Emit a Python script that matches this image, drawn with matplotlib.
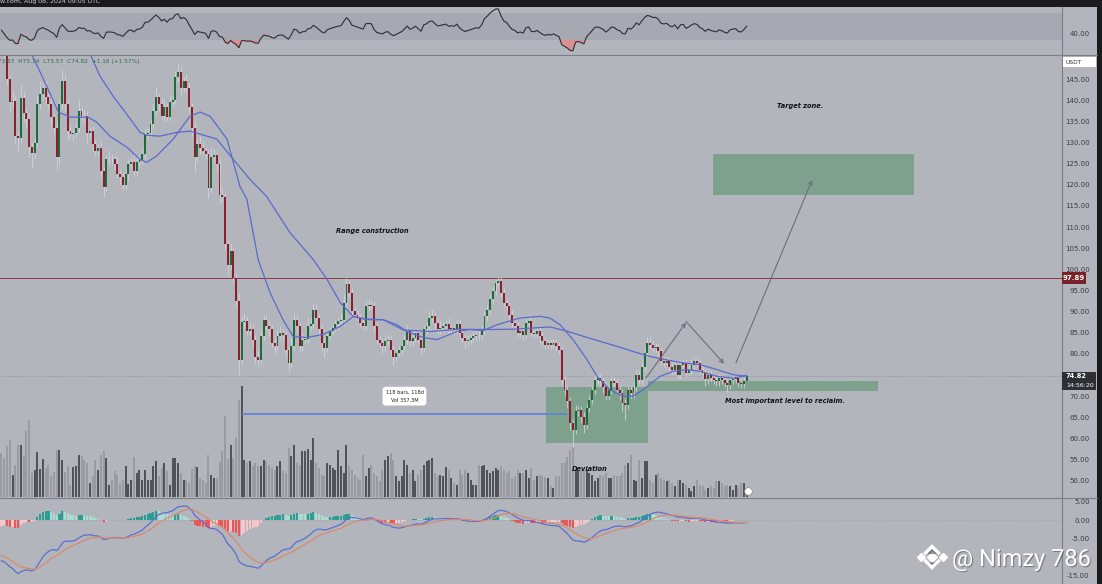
import numpy as np
import matplotlib
matplotlib.use("Agg")
import matplotlib.pyplot as plt
from matplotlib.patches import Rectangle
from matplotlib import transforms
from matplotlib.ticker import FormatStrFormatter
import matplotlib.patheffects as pe

# ---------------- data (daily candles, USDT) ----------------
first_open = 158.0
closes = [
    156, 151, 145, 139.5, 139.8, 131.5, 131, 140.5, 137, 135.5,
    129, 127.5, 130, 139, 141.5, 143, 140.7, 139, 136, 133.5,
    126.5, 139, 144.6, 139, 132.7, 132, 132.3, 133.5, 137.5, 136.3,
    136.2, 132.3, 132.7, 129.6, 128, 128.8, 123.3, 119.5, 126, 126.2,
    126, 125, 122.5, 121.8, 120, 122.5, 125, 125.4, 123.3, 125.4,
    125.8, 127.2, 132, 132.2, 134.3, 137.5, 140.7, 139, 136.3, 138.3,
    136, 139.5, 140, 145.4, 146.6, 143, 144.6, 143, 138.3, 133.5,
    126.5, 129.6, 128.8, 128, 127.2, 119.3, 126.5, 127, 125, 117.7,
    117, 106, 101.1, 104.3, 98, 92.5, 78.5, 87.5, 87.8, 85.4,
    85.8, 83.4, 79.4, 78.6, 84.2, 88.1, 86.6, 85.8, 82.6, 81.8,
    84.2, 85, 84.5, 81, 77.8, 81.8, 88.1, 86.6, 81.8, 83.4,
    83.6, 86.6, 87.2, 90.5, 88.5, 85.8, 82.6, 81.4, 84.2, 85.4,
    86.2, 87, 87.7, 88.1, 92.1, 96.5, 94.5, 90.1, 89.3, 88.5,
    87.4, 86.6, 91.3, 91.6, 91.3, 86.6, 83.4, 82.6, 81.8, 83,
    83.4, 81, 79.4, 80.2, 81, 81.8, 83.4, 85.4, 83, 83.8,
    85, 83.4, 81.4, 85.8, 86.6, 88.5, 88.9, 87.4, 85.8, 86.2,
    86.6, 87, 85.8, 86.2, 85.8, 87, 85, 83.8, 83, 83.4,
    83.8, 84.2, 84.6, 84.4, 85.8, 88.9, 90.5, 92.9, 94.9, 96.8,
    97.2, 94.5, 92.1, 91.3, 89.3, 87.3, 86.6, 85, 85.4, 84.6,
    87.3, 87.7, 85, 84.8, 85.4, 84.2, 83, 82.2, 82.6, 82.2,
    82.6, 81.8, 81, 73.9, 71.5, 68.8, 63.6, 62.1, 66.4, 66.8,
    65.2, 63.2, 67.2, 69.2, 71.5, 73.9, 74.3, 73.5, 72.3, 70,
    71.5, 73.5, 73.1, 71.5, 70.7, 68.4, 68, 71.5, 70.7, 72.3,
    75.1, 73.9, 77, 80.2, 82.6, 82.2, 81.4, 81.6, 80.6, 78.3,
    77.9, 78.3, 77, 76.3, 77.5, 75.1, 77.5, 77.9, 75.5, 76.3,
    77.5, 78.3, 77.9, 76.3, 75.5, 74, 75.1, 74.3, 73.9, 73.5,
    74.3, 73.9, 73.1, 72.7, 73.9, 74.1, 74.3, 73.1, 72.9, 73.66,
    74.82,
]
upper_wicks = [
    2.0, 1.5, 1.2, 1.0, 2.5, 1.5, 1.0, 3.0, 1.5, 1.0,
    1.5, 1.0, 1.0, 2.0, 3.0, 1.0, 1.5, 1.0, 2.0, 1.0,
    1.5, 1.0, 2.5, 1.5, 1.0, 1.5, 1.0, 1.0, 2.5, 1.0,
    1.5, 1.0, 1.0, 1.5, 1.0, 1.0, 1.5, 1.0, 1.0, 2.0,
    1.0, 1.0, 1.5, 1.0, 1.0, 1.5, 1.0, 1.0, 2.0, 1.0,
    1.0, 1.5, 1.5, 1.5, 1.0, 1.5, 2.5, 1.0, 1.5, 2.0,
    1.0, 1.5, 1.0, 1.5, 1.9, 1.5, 1.0, 1.5, 1.0, 1.0,
    1.5, 1.0, 2.0, 1.5, 1.0, 1.0, 2.5, 1.5, 1.0, 1.0,
    1.5, 1.0, 1.0, 2.0, 1.0, 1.0, 2.0, 1.5, 2.0, 1.0,
    1.5, 1.0, 1.0, 1.5, 1.5, 1.0, 1.0, 1.5, 1.0, 1.0,
    1.5, 1.5, 1.0, 1.0, 1.0, 2.5, 1.5, 1.0, 1.0, 1.5,
    1.0, 2.0, 1.5, 1.5, 1.0, 1.0, 1.0, 1.0, 1.0, 1.0,
    1.0, 1.0, 1.0, 1.5, 2.0, 1.5, 1.0, 1.0, 1.0, 1.0,
    1.0, 1.0, 1.5, 1.5, 1.0, 1.0, 1.0, 1.0, 1.0, 1.5,
    1.0, 1.0, 1.0, 1.0, 1.0, 1.0, 1.0, 1.5, 1.0, 1.0,
    1.0, 1.0, 1.0, 1.0, 1.0, 2.0, 1.5, 1.0, 1.0, 1.5,
    1.0, 1.0, 1.5, 1.0, 1.0, 1.0, 1.0, 1.0, 1.0, 1.0,
    1.0, 1.0, 1.0, 1.0, 1.0, 1.0, 1.0, 1.0, 1.0, 1.0,
    1.0, 1.0, 1.0, 1.0, 1.0, 1.0, 1.0, 1.0, 1.0, 1.0,
    1.0, 1.5, 1.0, 1.0, 1.0, 1.0, 1.0, 1.0, 1.0, 1.0,
    1.0, 1.0, 1.0, 1.0, 1.0, 1.0, 1.0, 1.0, 1.5, 1.0,
    1.0, 1.0, 1.0, 1.0, 1.0, 1.5, 1.0, 1.0, 1.0, 1.0,
    1.5, 1.0, 1.0, 1.0, 1.0, 1.0, 1.0, 1.0, 1.0, 1.0,
    1.0, 1.0, 1.0, 1.0, 1.5, 1.5, 1.0, 1.0, 1.0, 1.0,
    1.0, 1.0, 1.0, 1.0, 1.0, 1.0, 1.0, 1.0, 1.0, 1.0,
    1.0, 1.0, 1.0, 1.0, 1.0, 1.0, 1.0, 1.0, 1.0, 1.0,
    1.0, 1.0, 1.0, 1.0, 1.0, 1.0, 1.0, 1.0, 1.0, 1.0,
    0.32,
]
lower_wicks = [
    1.5, 1.0, 1.5, 2.0, 1.0, 1.5, 3.0, 1.0, 2.0, 2.0,
    2.5, 3.5, 1.5, 1.0, 1.0, 1.0, 1.5, 1.0, 2.0, 1.5,
    3.0, 1.5, 1.0, 1.5, 2.0, 1.0, 1.5, 1.0, 1.0, 1.0,
    1.5, 2.5, 1.0, 1.5, 1.0, 1.0, 1.5, 2.5, 1.0, 1.0,
    1.0, 1.5, 1.0, 1.5, 1.0, 1.0, 1.5, 1.0, 1.0, 1.0,
    1.5, 1.0, 1.0, 1.5, 1.0, 1.0, 1.0, 1.5, 1.0, 1.5,
    1.0, 1.0, 1.0, 1.0, 1.0, 1.5, 1.0, 1.0, 1.5, 2.0,
    3.5, 1.0, 1.5, 1.0, 1.0, 2.5, 1.0, 1.0, 1.5, 2.0,
    1.0, 1.5, 2.5, 1.0, 1.0, 1.5, 3.5, 1.0, 1.5, 1.0,
    1.0, 1.5, 1.5, 1.5, 1.0, 1.0, 1.0, 1.5, 1.0, 1.5,
    1.0, 1.0, 1.5, 1.5, 2.0, 1.0, 1.0, 1.5, 1.0, 1.0,
    1.0, 1.0, 1.0, 1.0, 1.0, 1.5, 2.0, 2.0, 1.0, 1.0,
    1.0, 1.0, 1.0, 1.0, 1.0, 1.0, 1.0, 1.5, 1.0, 1.0,
    1.0, 1.0, 1.0, 1.0, 1.0, 1.5, 1.0, 1.0, 1.5, 1.0,
    1.0, 1.5, 2.0, 1.0, 1.0, 1.0, 1.0, 1.0, 1.0, 1.0,
    1.0, 1.0, 1.5, 1.0, 1.0, 1.0, 1.0, 1.5, 1.0, 1.0,
    1.0, 1.0, 1.0, 1.0, 1.0, 1.0, 1.5, 1.0, 1.5, 1.0,
    1.0, 1.0, 1.0, 1.0, 1.0, 1.0, 1.0, 1.0, 1.0, 1.0,
    1.0, 1.0, 1.0, 1.0, 1.0, 1.0, 1.0, 1.0, 1.0, 1.5,
    1.0, 1.0, 1.0, 1.0, 1.0, 1.5, 1.0, 1.0, 1.0, 1.0,
    1.0, 1.0, 1.0, 1.0, 1.5, 1.5, 1.5, 4.0, 1.0, 1.0,
    1.5, 2.0, 1.0, 1.0, 1.0, 1.0, 1.0, 1.0, 1.5, 1.0,
    1.0, 1.0, 1.0, 1.0, 1.5, 2.0, 3.6, 1.0, 1.0, 1.0,
    1.0, 1.0, 1.0, 1.0, 1.0, 1.0, 1.0, 1.0, 1.0, 1.0,
    1.0, 1.0, 1.0, 1.0, 1.0, 1.0, 1.0, 1.0, 1.0, 1.0,
    1.0, 1.0, 1.0, 1.0, 1.0, 1.5, 1.0, 1.0, 1.0, 1.0,
    1.0, 1.0, 1.0, 1.6, 1.0, 1.0, 1.0, 1.0, 1.0, 1.0,
    0.09,
]
volume_100k = [
    44, 39, 51, 57, 22, 32, 52, 52, 41, 66,
    77, 24, 27, 45, 28, 38, 29, 32, 21, 25,
    47, 47, 37, 25, 31, 12, 30, 31, 42, 41,
    37, 34, 14, 21, 37, 27, 42, 46, 39, 12,
    17, 26, 22, 14, 17, 31, 13, 17, 40, 24,
    27, 17, 27, 17, 17, 31, 36, 21, 29, 34,
    26, 12, 39, 39, 34, 24, 17, 17, 14, 28,
    31, 30, 19, 17, 14, 42, 22, 19, 19, 35,
    46, 81, 38, 52, 39, 59, 97, 111, 37, 34,
    36, 31, 34, 31, 31, 37, 36, 32, 29, 27,
    31, 36, 26, 24, 49, 41, 52, 34, 32, 46,
    46, 48, 37, 59, 34, 29, 22, 21, 34, 32,
    29, 27, 47, 31, 24, 52, 31, 27, 22, 19,
    17, 42, 21, 29, 32, 24, 21, 16, 27, 37,
    41, 44, 37, 21, 16, 21, 37, 32, 24, 27,
    16, 22, 27, 32, 36, 37, 39, 24, 21, 22,
    21, 30, 27, 19, 14, 12, 27, 22, 27, 24,
    17, 12, 12, 32, 31, 32, 27, 24, 26, 29,
    27, 31, 27, 24, 26, 19, 21, 27, 24, 24,
    27, 19, 29, 17, 21, 22, 21, 20, 19, 11,
    9, 21, 21, 34, 34, 40, 47, 50, 27, 26,
    27, 27, 27, 24, 22, 16, 19, 22, 21, 24,
    19, 19, 22, 21, 21, 24, 32, 34, 42, 17,
    16, 37, 19, 36, 36, 17, 14, 22, 24, 19,
    17, 16, 17, 14, 11, 17, 17, 14, 12, 9,
    6, 11, 17, 12, 11, 7, 9, 11, 9, 16,
    16, 14, 11, 12, 11, 7, 12, 11, 14, 14,
    8,
]
# moving averages (bar index, price)
ma_fast_bars = [10.9, 15.2, 20.6, 24.8, 31.4, 34.5, 39.3, 45.4, 50.2, 52.6,
                56.2, 62.2, 68.3, 72.0, 75.6, 81.7, 86.4, 88.9, 93.0, 97.3,
                102.0, 105.7, 110.6, 116.5, 122.7, 127.4, 133.5, 138.3, 143.3, 146.9,
                152.7, 157.8, 165.0, 169.8, 174.5, 179.5, 187.9, 195.1, 198.7, 202.4,
                207.1, 212.1, 215.8, 220.5, 225.2, 228.8, 232.4, 238.6, 243.3, 248.3,
                253.1, 259.3, 265.1, 270.0]
ma_fast_vals = [150.9, 145, 137.2, 136, 136, 134.8, 131.5, 128.9, 126, 125.3,
                126.8, 130.8, 136.2, 137.2, 136.2, 130.8, 119.6, 116.6, 102.3, 94.5,
                88.1, 84.1, 83.9, 84.6, 86.5, 88.8, 88.1, 88.1, 86.9, 85.3,
                83.9, 83.4, 85.3, 85.8, 85.5, 86.9, 88.5, 88.9, 88.5, 86.9,
                83.4, 78.7, 74.7, 71.5, 70, 70, 71.5, 74.7, 75.9, 76.3,
                75.9, 74.7, 74.3, 74.9]
ma_slow_bars = [32.1, 35.7, 40.4, 45.4, 50.2, 52.7, 57.4, 63.6, 68.3, 71.9,
                78.0, 84.0, 90.0, 96.0, 104.5, 113.0, 118.0, 122.7, 127.4, 131.0,
                138.3, 145.5, 155.3, 165.0, 174.5, 180.6, 186.8, 198.7, 204.9, 210.7,
                216.8, 223.0, 228.8, 235.0, 241.0, 246.9, 253.0, 259.3, 265.1, 270.0]
ma_slow_vals = [150.9, 145.7, 141, 136.7, 132.4, 131.7, 131.5, 132.4, 132.7, 132,
                130.8, 126, 121.3, 117.3, 108.7, 102.3, 97.6, 92.2, 88.9, 88.3,
                88.1, 85.7, 85.3, 85.8, 85.8, 85.8, 85.9, 86.4, 85.4, 84.2,
                83, 81.8, 80.6, 79.4, 78.6, 77.9, 77.5, 76.3, 75.1, 74.7]

ema12_start, ema26_start, signal_start = 165.0, 176.0, -9.5
rsi_gain_start, rsi_loss_start = 1.2, 1.5

price_ticks = [p for p in range(50, 150, 5) if p != 75]   # 75 sits under the last-price tag
rsi_ticks = [40]
macd_ticks = [5, 0, -5, -15]                              # -10 sits under the watermark
resistance = 97.89
last_price = 74.82
last_time = "14:56:20"
ohlc_header = "O73.67  H75.14  L73.57  C74.82  +1.16 (+1.57%)"
top_caption = "TradingView.com, Aug 08, 2024 09:05 UTC"
measure_start, measure_end, measure_price = 87, 205, 65.9
measure_text = "118 bars, 118d\nVol 357.3M"
zone_target = (257.8, 330.6, 117.7, 127.2)
zone_deviation = (197.3, 234.3, 59.0, 72.25)
zone_level = (234.3, 317.6, 71.3, 73.7)
arrow_paths = [((233.5, 74.3), (248.0, 87.4)),
               ((248.0, 87.7), (261.8, 77.7)),
               ((266.1, 77.9), (293.7, 121.1))]
notes = [("Range construction", 134.3, 109.0),
         ("Target zone.", 289.3, 138.6),
         ("Most important level to reclaim.", 283.9, 68.8),
         ("Deviation", 213.2, 52.8)]
watermark = "@ Nimzy 786"

# ---------------- derived series ----------------
c = np.array(closes, dtype=float)
n = len(c)
x = np.arange(n)
opens = np.concatenate([[first_open], c[:-1]])
highs = np.maximum(opens, c) + np.array(upper_wicks)
lows = np.minimum(opens, c) - np.array(lower_wicks)
vol = np.array(volume_100k, dtype=float)


def ema(series, period, start):
    a = 2.0 / (period + 1)
    out = np.empty(len(series))
    prev = start
    for i, v in enumerate(series):
        if i > 0:
            prev = prev + a * (v - prev)
        out[i] = prev
    return out


macd = ema(c, 12, ema12_start) - ema(c, 26, ema26_start)
signal = ema(macd, 9, signal_start)
hist = macd - signal

g, l = rsi_gain_start, rsi_loss_start
rsi = [100 - 100 / (1 + g / l)]
for d in np.diff(c):
    g = (g * 13 + max(d, 0)) / 14
    l = (l * 13 + max(-d, 0)) / 14
    rsi.append(100 - 100 / (1 + g / l))
rsi = np.array(rsi)

# ---------------- styling ----------------
W, H = 1102, 584
BG = "#b3b5bd"
BAND = "#a6a9b1"
GREEN, RED = "#1f6b38", "#8c1f2e"
WICK = "#d2d3d8"
VOL_UP, VOL_DN = "#525359", "#999aa2"
MA_COL = "#5a6bcc"
AXIS_COL = "#7b7d85"
LABEL_COL = "#3b3c42"

fig = plt.figure(figsize=(W / 100, H / 100), dpi=100, facecolor=BG)


def rect(x0, y0, x1, y1):
    return [x0 / W, 1 - y1 / H, (x1 - x0) / W, (y1 - y0) / H]


XL = (-0.54, 384.25)


def style_axis(ax, ticks):
    ax.set_xlim(*XL)
    ax.set_xticks([])
    for s in ("top", "left", "bottom"):
        ax.spines[s].set_visible(False)
    ax.spines["right"].set_color(AXIS_COL)
    ax.spines["right"].set_linewidth(0.8)
    ax.yaxis.tick_right()
    ax.set_yticks(ticks)
    ax.yaxis.set_major_formatter(FormatStrFormatter("%.2f"))
    ax.tick_params(axis="y", length=0, pad=20, labelsize=5, labelcolor=LABEL_COL)
    plt.setp(ax.get_yticklabels(), ha="right")


# RSI panel
ax_rsi = fig.add_axes(rect(0, 7, 1062, 54), facecolor=BG)
style_axis(ax_rsi, rsi_ticks)
ax_rsi.set_ylim(9.05, 79.1)
ax_rsi.axhspan(30, 70, color=BAND, lw=0, zorder=0)
ax_rsi.plot(x, rsi, color="#2d2e33", lw=0.8, zorder=3)
ax_rsi.fill_between(x, rsi, 30, where=rsi < 30, interpolate=True,
                    color="#de8c8c", alpha=0.9, lw=0, zorder=2)

# Volume (behind price)
ax_vol = fig.add_axes(rect(0, 55, 1062, 497), facecolor=BG, zorder=1)
ax_vol.set_xlim(*XL)
ax_vol.set_ylim(0, 442)
ax_vol.axis("off")
ax_vol.bar(x, vol, width=0.72,
           color=[VOL_UP if cc >= oo else VOL_DN for cc, oo in zip(c, opens)], lw=0)

# Main price panel
ax = fig.add_axes(rect(0, 55, 1062, 497), zorder=2)
ax.patch.set_visible(False)
style_axis(ax, price_ticks)
ax.set_ylim(46.18, 150.69)

for (x0, x1, y0, y1) in (zone_target, zone_deviation, zone_level):
    ax.add_patch(Rectangle((x0, y0), x1 - x0, y1 - y0, facecolor="#4a8f5e",
                           alpha=0.5, lw=0, zorder=1))

ax.axhline(resistance, color="#8b3a3e", lw=0.7, zorder=1.5)
ax.axhline(last_price, color="#858790", lw=0.6, ls=(0, (1, 2)), zorder=1.5)
ax.hlines(measure_price, measure_start, measure_end, color="#6584d8", lw=1.3, zorder=2)
ax.text((measure_start + measure_end) / 2, 70.0, measure_text, ha="center", va="center",
        fontsize=3.6, color="#222", linespacing=1.7, zorder=6,
        bbox=dict(boxstyle="round,pad=0.6", fc="white", ec="#d0d0d0", lw=0.4))

ax.vlines(x, lows, highs, colors=WICK, lw=0.6, zorder=3)
ax.bar(x, np.maximum(np.abs(c - opens), 0.15), bottom=np.minimum(opens, c), width=0.7,
       color=[GREEN if cc >= oo else RED for cc, oo in zip(c, opens)], lw=0, zorder=4)

ax.plot(ma_fast_bars, ma_fast_vals, color=MA_COL, lw=0.9, zorder=5)
ax.plot(ma_slow_bars, ma_slow_vals, color=MA_COL, lw=0.9, zorder=5)

for (p0, p1) in arrow_paths:
    ax.annotate("", xy=p1, xytext=p0, zorder=6,
                arrowprops=dict(arrowstyle="->", color="#6d6f78", lw=0.8,
                                shrinkA=0, shrinkB=0, mutation_scale=7))

for txt, bx, py in notes:
    ax.text(bx, py, txt, ha="center", va="center", fontsize=4.8,
            fontstyle="italic", fontweight="bold", color="#111111", zorder=7)

ax.plot([n - 0.5], [47.6], marker="o", ms=5.5, mfc="white", mec="#8a8a8a", mew=0.5,
        zorder=7, clip_on=False)

# price labels on the right scale
bt = transforms.blended_transform_factory(ax.transAxes, ax.transData)
ax.add_patch(Rectangle((1.0, resistance - 1.45), 24 / 1062, 2.9, transform=bt,
                       facecolor="#7b2128", lw=0, clip_on=False, zorder=20))
ax.text(1.0 + 12 / 1062, resistance, f"{resistance:.2f}", transform=bt, ha="center",
        va="center", fontsize=5, color="white", fontweight="bold", clip_on=False, zorder=21)
ax.add_patch(Rectangle((1.0, last_price - 3.3), 34 / 1062, 4.3, transform=bt,
                       facecolor="#2e2f34", lw=0, clip_on=False, zorder=20))
ax.text(1.0 + 4 / 1062, last_price, f"{last_price:.2f}", transform=bt, ha="left",
        va="center", fontsize=4.8, color="white", fontweight="bold", clip_on=False, zorder=21)
ax.text(1.0 + 4 / 1062, last_price - 2.2, last_time, transform=bt, ha="left",
        va="center", fontsize=4.5, color="white", clip_on=False, zorder=21)

# MACD panel
ax_m = fig.add_axes(rect(0, 498, 1062, 584), facecolor=BG)
style_axis(ax_m, macd_ticks)
ax_m.set_ylim(-17.3, 5.95)
ax_m.axhline(0, color="#9a9ca4", lw=0.5, ls=(0, (1, 2)))
hcols = []
for i, hv in enumerate(hist):
    prev = hist[i - 1] if i > 0 else hv
    if hv >= 0:
        hcols.append("#2a9f92" if hv > prev else "#a9dcd3")
    else:
        hcols.append("#ee5555" if hv < prev else "#f7c6cb")
ax_m.bar(x, hist, width=0.8, color=hcols, lw=0, zorder=2)
ax_m.plot(x, macd, color="#5b6ed2", lw=0.9, zorder=3)
ax_m.plot(x, signal, color="#d98a6c", lw=0.9, zorder=3)

# ---------------- overlay (frame, header, watermark) ----------------
ov = fig.add_axes([0, 0, 1, 1], zorder=10)
ov.set_xlim(0, W)
ov.set_ylim(H, 0)
ov.axis("off")
ov.patch.set_visible(False)
ov.add_patch(Rectangle((0, 0), W, 7, facecolor="#1b1b1d", lw=0))
ov.add_patch(Rectangle((1097, 0), 5, H, facecolor="#1b1b1d", lw=0))
ov.plot([0, 1097], [54.5, 54.5], color="#7c7e86", lw=0.8)
ov.plot([0, 1097], [497.5, 497.5], color="#7c7e86", lw=0.8)
ov.text(100, 2, top_caption, ha="right", va="center", fontsize=4.5, color="#cfcfd4")
ov.text(-7, 62, ohlc_header, ha="left", va="center", fontsize=4.2, color="#2f6b47")
ov.add_patch(Rectangle((1063, 57), 33, 10, facecolor="white", lw=0))
ov.text(1066, 62, "USDT", ha="left", va="center", fontsize=4.3, color="#333333")

shadow = [pe.withSimplePatchShadow(offset=(0.8, -0.8), shadow_rgbFace="#404040", alpha=0.5)]
ov.text(952, 566, watermark, ha="left", va="baseline", fontsize=17, family="Roboto",
        color="white", path_effects=shadow)
lx, ly = 932, 557
ov.plot([lx], [ly], marker="D", ms=5.5, color="white", path_effects=shadow)
ov.plot([lx - 11, lx + 11], [ly, ly], ls="none", marker="D", ms=3.6, color="white",
        path_effects=shadow)
ov.plot([lx - 6.5, lx, lx + 6.5], [ly - 4, ly - 10.5, ly - 4], color="white", lw=2.4,
        solid_joinstyle="miter", path_effects=shadow)
ov.plot([lx - 6.5, lx, lx + 6.5], [ly + 4, ly + 10.5, ly + 4], color="white", lw=2.4,
        solid_joinstyle="miter", path_effects=shadow)

fig.savefig("out.png", dpi=100, facecolor=BG)
